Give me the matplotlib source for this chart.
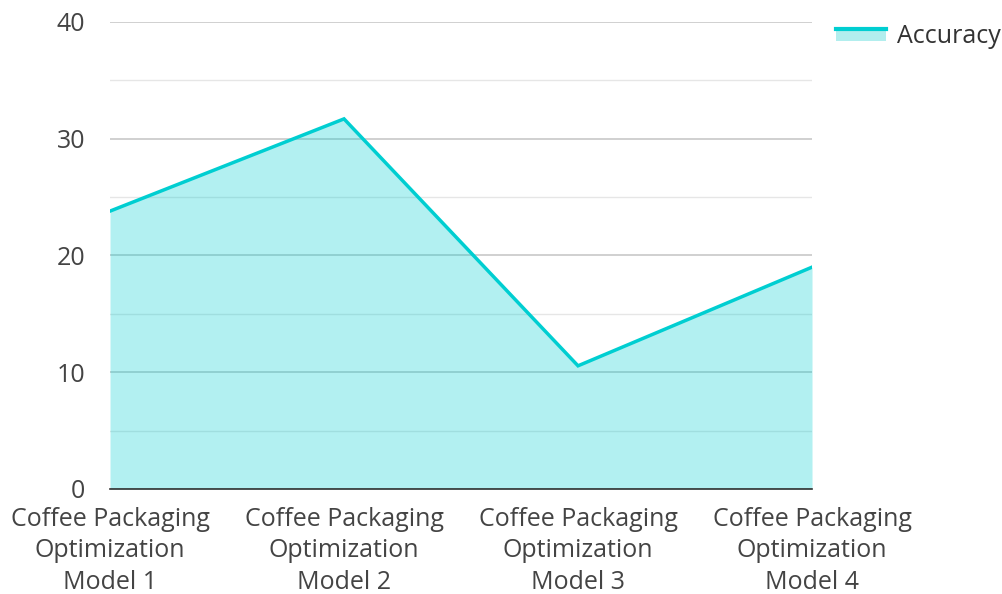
import matplotlib
matplotlib.use("Agg")
import matplotlib.pyplot as plt
from matplotlib.legend_handler import HandlerBase
from matplotlib.patches import Rectangle
from matplotlib.lines import Line2D

plt.rcParams['font.family'] = ['Open Sans', 'DejaVu Sans']

models = ["Coffee Packaging\nOptimization\nModel 1",
          "Coffee Packaging\nOptimization\nModel 2",
          "Coffee Packaging\nOptimization\nModel 3",
          "Coffee Packaging\nOptimization\nModel 4"]
accuracy = [23.8, 31.7, 10.55, 19.0]

line_color = "#00CED1"
fill_color = "#b2eeee"


class AreaHandler(HandlerBase):
    def create_artists(self, legend, orig, xd, yd, w, h, fontsize, trans):
        rect = Rectangle((-xd, -yd), w, h * 0.85, facecolor=fill_color,
                         edgecolor="none", transform=trans)
        ln = Line2D([-xd, -xd + w], [-yd + h * 0.85, -yd + h * 0.85],
                    color=line_color, lw=3, transform=trans)
        return [rect, ln]


fig = plt.figure(figsize=(10.02, 5.94), dpi=100)
ax = fig.add_axes([0.1098, 0.1768, 0.7006, 0.7862])

x = list(range(len(models)))
ax.fill_between(x, accuracy, 0, color=line_color, alpha=0.3, lw=0, zorder=2)
ax.plot(x, accuracy, color=line_color, lw=2.5, zorder=3, solid_joinstyle="miter")

ax.set_xlim(0, len(models) - 1)
ax.set_ylim(0, 40)
ax.set_yticks([0, 10, 20, 30, 40])
ax.set_yticks([5, 15, 25, 35], minor=True)
ax.set_xticks(x)
ax.set_xticklabels(models)

ax.grid(axis="y", which="major", color="#c8c8c8", lw=1.2, zorder=1)
ax.grid(axis="y", which="minor", color="#e6e6e6", lw=1.0, zorder=1)
ax.set_axisbelow(True)

for s in ["top", "right", "left"]:
    ax.spines[s].set_visible(False)
ax.spines["bottom"].set_color("#333333")
ax.spines["bottom"].set_linewidth(1.2)
ax.spines["bottom"].set_zorder(4)

ax.tick_params(axis="both", which="both", length=0, labelsize=18, colors="#444444")
ax.tick_params(axis="y", pad=18)
ax.tick_params(axis="x", pad=13)
for lbl in ax.get_xticklabels():
    lbl.set_linespacing(1.34)

fig.legend(handles=[Rectangle((0, 0), 1, 1)], labels=["Accuracy"],
           handler_map={Rectangle: AreaHandler()},
           loc="upper left", bbox_to_anchor=(0.834, 0.96), frameon=False,
           borderpad=0, borderaxespad=0,
           fontsize=18, handlelength=2.0, handleheight=0.55, handletextpad=0.44,
           labelcolor="#333333")

fig.savefig("out.png", dpi=100)
